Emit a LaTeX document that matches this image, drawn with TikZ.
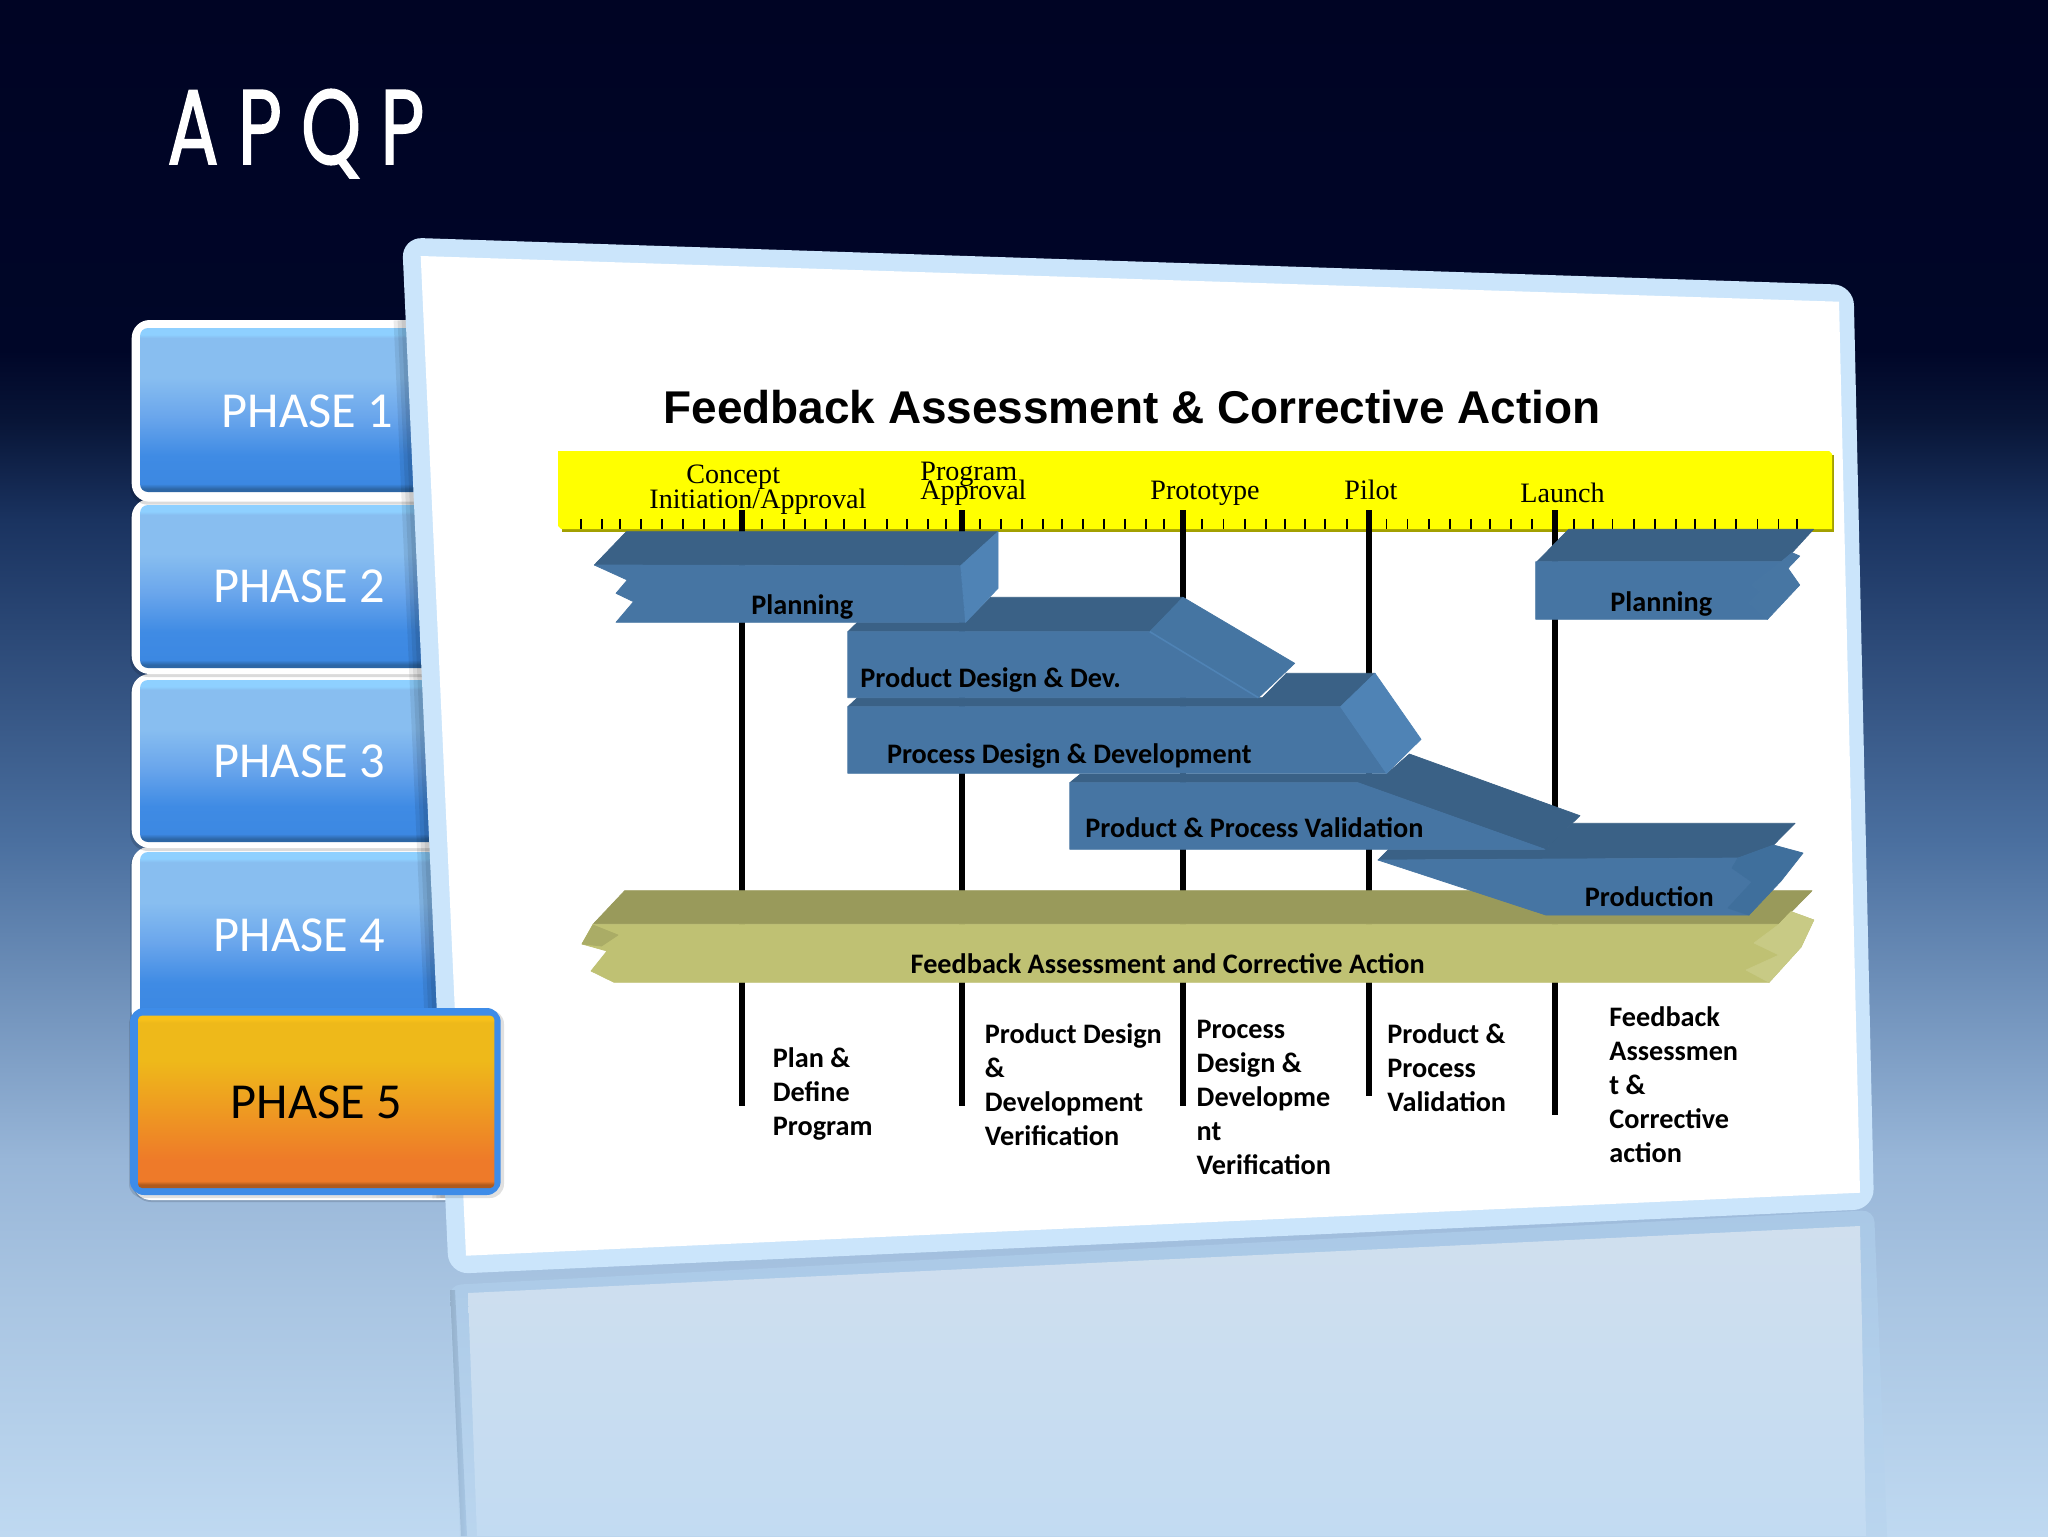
\documentclass[tikz,border=0pt]{standalone}
\usepackage{fontspec}
\newfontfamily\carl{Carlito}
\newfontfamily\lserif{Liberation Serif}
\newfontfamily\lsans{Liberation Sans}
\newfontfamily\popp[LetterSpace=25,FakeBold=1.6]{Poppins}
\definecolor{ctop}{HTML}{3A6186}
\definecolor{cfront}{HTML}{4675A3}
\definecolor{cside}{HTML}{4F83B5}
\definecolor{cfold}{HTML}{4575A2}
\definecolor{cmid}{HTML}{3F6F9C}
\definecolor{otop}{HTML}{999A5B}
\definecolor{ofront}{HTML}{BFC173}
\definecolor{oside}{HTML}{AAAC66}
\definecolor{oedge}{HTML}{C8CA85}
\definecolor{frame}{HTML}{CBE5FB}
\definecolor{framelow}{HTML}{A9C8E6}
\definecolor{framelowb}{HTML}{BBD6EF}
\definecolor{refltop}{HTML}{D0DFEE}
\definecolor{reflbot}{HTML}{C2DBF2}
\definecolor{pure}{HTML}{FFFF00}
\definecolor{ruleshadow}{HTML}{A3A000}
\definecolor{activeborder}{HTML}{3E8CE8}
\definecolor{bga}{HTML}{BFD9F1}
\definecolor{bgb}{HTML}{A9C5E2}
\definecolor{bgc}{HTML}{98B6D8}
\definecolor{bgd}{HTML}{4A6F9F}
\definecolor{bge}{HTML}{1A3360}
\definecolor{bgf}{HTML}{081537}
\definecolor{bgg}{HTML}{000628}
\definecolor{bgh}{HTML}{000424}
\definecolor{ba}{HTML}{2D66A5}
\definecolor{bb}{HTML}{3C88E2}
\definecolor{bc}{HTML}{3F8BE4}
\definecolor{bd}{HTML}{6AA6EC}
\definecolor{be}{HTML}{88BEF0}
\definecolor{bf}{HTML}{8ED0FF}
\definecolor{oa}{HTML}{AF5A1E}
\definecolor{ob}{HTML}{EE7A29}
\definecolor{oc}{HTML}{EEB91A}
\definecolor{od}{HTML}{F7C11A}
\pgfdeclareverticalshading{bgshade}{100bp}{
 color(0bp)=(bga); color(25bp)=(bga);
 color(32.68bp)=(bgb); color(37.24bp)=(bgc);
 color(47.66bp)=(bgd); color(58.07bp)=(bge);
 color(61.3bp)=(bgf); color(63.6bp)=(bgg);
 color(75bp)=(bgh); color(100bp)=(bgh)}
\pgfdeclareverticalshading{btnblue}{100bp}{
 color(0bp)=(ba); color(26bp)=(ba); color(27.5bp)=(bb);
 color(36bp)=(bc); color(48bp)=(bd); color(60bp)=(be);
 color(72bp)=(be); color(73bp)=(bf); color(100bp)=(bf)}
\pgfdeclareverticalshading{btnorange}{100bp}{
 color(0bp)=(oa); color(26bp)=(oa); color(27bp)=(ob);
 color(33bp)=(ob); color(62bp)=(oc); color(73bp)=(oc);
 color(74bp)=(od); color(100bp)=(od)}
\tikzset{
 x=0.5pt,y=-0.5pt,
 lbl/.style={anchor=base west,inner sep=0pt,font=\carl\bfseries\fontsize{14.12}{17}\selectfont,text=black},
 sttxt/.style={anchor=base west,inner sep=0pt,font=\lserif\fontsize{14.05}{14}\selectfont,text=black},
 phase/.style={anchor=base west,inner sep=0pt,font=\carl\fontsize{25.2}{25}\selectfont},
 milestone/.style={line width=3pt,black},
 tick/.style={line width=0.9pt,black},
 outerbtn/.style={fill=white,rounded corners=9pt},
 innerbtn/.style={shading=btnblue,rounded corners=4pt},
 facet/.style={fill=#1,draw=#1,line width=.35pt,line join=round},
}
\begin{document}
\begin{tikzpicture}
\useasboundingbox (0,0) rectangle (2048,1536);
% background
\shade[shading=bgshade] (0,0) rectangle (2048,1536);
% reflection of the panel
\shade[top color=framelow,bottom color=framelowb,rounded corners=6pt] (449,1285) -- (1874,1210) -- (1888,1560) -- (461,1560) -- cycle;
\shade[left color=framelow!88!black,right color=framelow] (450,1290) -- (455,1290) -- (467,1536) -- (461,1536) -- cycle;
\shade[top color=refltop,bottom color=reflbot] (468,1293) -- (1860,1226) -- (1866,1536) -- (477,1536) -- cycle;
% phase buttons
\foreach \t/\b [count=\i] in {846.7/1030,674/848,499/674,320/501.7}{
  \fill[black,opacity=.14,rounded corners=9pt] (130,\t+2) rectangle (500,\b+3);
  \fill[outerbtn] (131.7,\t) rectangle (500,\b);
}
\fill[black,opacity=.14,rounded corners=9pt] (133,1010) rectangle (500,1202);
\fill[outerbtn] (133,1010) rectangle (500,1200);
\shade[innerbtn] (140,852) rectangle (500,1020);
\shade[innerbtn] (140,680) rectangle (500,842);
\shade[innerbtn] (140,505) rectangle (500,668);
\shade[innerbtn] (140,328) rectangle (500,492);
\node[phase,text=white] (p1) at (221.5,427) {PHASE 1};
\node[phase,text=white] (p2) at (213,602.5) {PHASE 2};
\node[phase,text=white] (p3) at (213,777) {PHASE 3};
\node[phase,text=white] (p4) at (213.5,951.7) {PHASE 4};
% panel shadow on the buttons
\foreach \w in {24,16,8}{
  \draw[black,opacity=.08,line width=\w pt*0.5] (405.6,320) -- (444.5,1198);
}
% panel
\fill[frame,rounded corners=10pt] (402,237.5) -- (1853.5,285) -- (1874,1209) -- (448.7,1274) -- cycle;
\fill[white] (420.7,256) -- (1839,301.7) -- (1860,1192.7) -- (466,1255.7) -- cycle;
% APQP
\node[anchor=base west,inner sep=0pt,text=white,xscale=.72,font=\popp\fontsize{53}{53}\selectfont] (apqp) at (167,164) {APQP};
% chart title
\node[anchor=base west,inner sep=0pt,text=black,font=\lsans\bfseries\fontsize{22.97}{23}\selectfont] (title) at (663,423.5) {Feedback Assessment \& Corrective Action};
% yellow ruler
\fill[ruleshadow] (562,455) -- (1834,455) -- (1834,532) -- (562,532) -- cycle;
\fill[pure] (558,451) -- (1829,451) -- (1832,454) -- (1832,529) -- (561,529) -- (558,526) -- cycle;
\foreach \x in {581,602,620,641,662,683,704,724,762,784,805,826,844,865,887,907,928,946,980,1001,1022,1043,1062,1083,1104,1125,1146,1164,1202,1223.5,1245,1266,1285,1305,1325,1347,1386.5,1407.5,1429,1450,1471,1490,1511,1532,1574,1593,1612.5,1634,1655,1676,1695,1715,1736,1757.5,1778.5,1797}{
  \draw[tick] (\x,519) -- (\x,529);
}
\node[sttxt] (s1a) at (686,483) {Concept};
\node[sttxt] (s1b) at (649,508) {Initiation/Approval};
\node[sttxt] (s2a) at (920,480) {Program};
\node[sttxt] (s2b) at (920,499) {Approval};
\node[sttxt] (s3) at (1150,499) {Prototype};
\node[sttxt] (s4) at (1344,499) {Pilot};
\node[sttxt] (s5) at (1520,502.5) {Launch};
% milestone lines
\coordinate (m1t) at (741.6,510); \coordinate (m1b) at (741.6,1105.7);
\coordinate (m2t) at (961.7,510); \coordinate (m2b) at (961.7,1105.7);
\coordinate (m3t) at (1183,510); \coordinate (m3b) at (1183,1105.7);
\coordinate (m4t) at (1368.5,510); \coordinate (m4b) at (1368.5,1096);
\coordinate (m5t) at (1555,510); \coordinate (m5b) at (1555,1115);
\foreach \n in {1,...,5}{ \draw[milestone] (m\n t) -- (m\n b); }
% feedback band
\draw[facet=otop] (624.7,890.7) -- (1812,890.7) -- (1779,924.3) -- (593,924.3) -- cycle;
\draw[facet=ofront] (593,924.3) -- (1779,924.3) -- (1791,911.7) -- (1813.7,920) -- (1801,947) -- (1769,982.3) -- (614,982.3) -- (591,971) -- (607,951) -- (582,944) -- cycle;
\draw[facet=oside] (593,925) -- (618,935) -- (601.5,946) -- (582,944) -- cycle;
\draw[facet=oedge] (1779,924.3) -- (1791,911.7) -- (1813.7,920) -- (1801,947) -- (1769,982.3) -- (1746,970) -- (1779,955) -- (1754,943) -- cycle;
% production
\draw[facet=ctop] (1378,860) -- (1388.8,849.3) -- (1545,849.3) -- (1572.4,823.3) -- (1795,823.3) -- (1773.5,845) -- (1738,858) -- cycle;
\draw[facet=cfront] (1378,860) -- (1738,858) -- (1732,868) -- (1752,882) -- (1728,908) -- (1749,915) -- (1545.8,915) -- cycle;
\draw[facet=cmid] (1773.5,845) -- (1803,853) -- (1781,881) -- (1749,915) -- (1728,908) -- (1752,882) -- (1732,868) -- (1738,858) -- cycle;
% validation
\draw[facet=ctop] (1069.8,782.7) -- (1080.5,774) -- (1386.5,774) -- (1409.4,754) -- (1580,815.7) -- (1545,849.3) -- (1358,782.7) -- cycle;
\draw[facet=cfront] (1069.8,782.7) -- (1358,782.7) -- (1545,849.3) -- (1069.8,849.3) -- cycle;
% process
\draw[facet=ctop] (847.8,706.7) -- (857.5,697.7) -- (1262.5,697.7) -- (1286.4,673.3) -- (1375,673.3) -- (1340.5,706.7) -- cycle;
\draw[facet=cfront] (847.8,706.7) -- (1340.5,706.7) -- (1386.5,773.3) -- (847.8,773.3) -- cycle;
\draw[facet=cside] (1340.5,706.7) -- (1375,673.3) -- (1421,739.3) -- (1386.5,773.3) -- cycle;
% product design
\draw[facet=ctop] (847.8,631.7) -- (857.5,622.3) -- (965.6,622.3) -- (990.8,597.3) -- (1183,597.3) -- (1149.8,631.7) -- cycle;
\draw[facet=cfront] (847.8,631.7) -- (1149.8,631.7) -- (1258.4,697.7) -- (847.8,697.7) -- cycle;
\draw[facet=cfold] (1149.8,631.7) -- (1183,597.3) -- (1294.7,663.3) -- (1258.4,697.7) -- cycle;
\draw[cside,line width=.8pt] (1149.8,631.7) -- (1258.4,697.7);
% planning left
\draw[facet=ctop] (626.3,531.7) -- (998,531.7) -- (960.7,565.7) -- (594.3,565) -- cycle;
\draw[facet=cfront] (594.3,565) -- (960.7,565.7) -- (965.6,622.3) -- (616,622.3) -- (633.5,601.7) -- (616,593.3) -- (627.3,580) -- cycle;
\draw[facet=cside] (960.7,565.7) -- (998,531.7) -- (998,588.3) -- (965.6,622.3) -- cycle;
% planning right
\draw[facet=ctop] (1537,561.7) -- (1568.7,529.3) -- (1813.5,529.3) -- (1792,552.7) -- (1781,561.7) -- cycle;
\draw[facet=cfront] (1535.7,561.7) -- (1781.3,561.7) -- (1751.5,585) -- (1760.7,591.7) -- (1749,602.7) -- (1767.5,619.3) -- (1535.7,619.3) -- cycle;
\draw[facet=cside!90!black] (1792,552.7) -- (1799.7,556) -- (1788,568.3) -- (1799.7,585) -- (1767.5,619.3) -- (1749,602.7) -- (1760.7,591.7) -- (1751.5,585) -- (1781.3,561.7) -- cycle;
% band labels
\node[lbl] (b1) at (751,614.5) {Planning};
\node[lbl] (b2) at (860,687.5) {Product Design \& Dev.};
\node[lbl] (b3) at (886.6,763) {Process Design \& Development};
\node[lbl] (b4) at (1085,837.5) {Product \& Process Validation};
\node[lbl] (b5) at (1584.5,906.5) {Production};
\node[lbl] (b6) at (1610,611.5) {Planning};
\node[lbl] (b7) at (910.3,973) {Feedback Assessment and Corrective Action};
% lower labels
\node[lbl] (c1) at (772.5,1067.5) {\vtop{\hbox{Plan \&}\hbox{Define}\hbox{Program}}};
\node[lbl] (c2) at (984.5,1043.5) {\vtop{\hbox{Product Design}\hbox{\&}\hbox{Development}\hbox{Verification}}};
\node[lbl] (c3) at (1196.3,1038.5) {\vtop{\hbox{Process}\hbox{Design \&}\hbox{Developme}\hbox{nt}\hbox{Verification}}};
\node[lbl] (c4) at (1387,1043) {\vtop{\hbox{Product \&}\hbox{Process}\hbox{Validation}}};
\node[lbl] (c5) at (1609,1026) {\vtop{\hbox{Feedback}\hbox{Assessmen}\hbox{t \&}\hbox{Corrective}\hbox{action}}};
% phase 5
\fill[black,opacity=.12,rounded corners=7pt] (129,1010) rectangle (504,1198);
\fill[activeborder,rounded corners=7pt] (130,1008) rectangle (500.7,1195);
\shade[shading=btnorange,rounded corners=2pt] (138,1015.7) rectangle (494.3,1188);
\node[phase,text=black] (p5) at (230.5,1118) {PHASE 5};
\end{tikzpicture}
\end{document}
